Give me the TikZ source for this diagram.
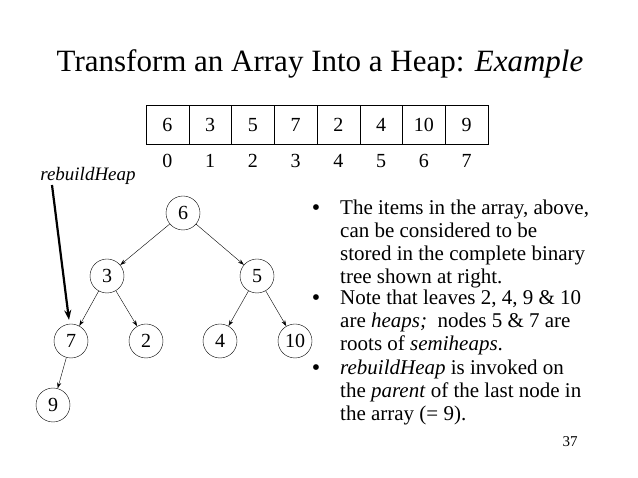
\documentclass[tikz,border=0pt]{standalone}
\usepackage{fontspec}
\setmainfont{Liberation Serif}
\usetikzlibrary{arrows.meta}
\begin{document}
\begin{tikzpicture}[x=1pt,y=-1pt,
  tn/.style={circle,draw,thin,minimum size=34pt,inner sep=0pt,font=\fontsize{20}{20}\selectfont},
  cell/.style={draw,thin,minimum width=42.75pt,minimum height=39pt,inner sep=0pt,font=\fontsize{20}{20}\selectfont},
  edge/.style={-{Stealth[length=6pt,width=4pt]},thin},
  bl/.style={anchor=base west,font=\fontsize{21}{21}\selectfont,inner sep=0pt}]
\useasboundingbox (0,0) rectangle (638,478);
\node[font=\fontsize{31}{31}\selectfont,anchor=base] (title) at (320,72) {Transform an Array Into a Heap: \textit{Example}};
\foreach \v [count=\i from 0] in {6,3,5,7,2,4,10,9}{
  \node[cell] (c\i) at ({167.4+42.75*\i},125) {\v};
  \node[font=\fontsize{20}{20}\selectfont] (i\i) at ({167.4+42.75*\i},161) {\i};
}
\node[tn] (n6) at (183,213) {6};
\node[tn] (n3) at (107,276) {3};
\node[tn] (n5) at (257,276) {5};
\node[tn] (n7) at (71,341) {7};
\node[tn] (n2) at (146,341) {2};
\node[tn] (n4) at (220,341) {4};
\node[tn] (n10) at (295,341) {10};
\node[tn] (n9) at (53,405) {9};
\draw[edge] (n6) -- (n3);
\draw[edge] (n6) -- (n5);
\draw[edge] (n3) -- (n7);
\draw[edge] (n3) -- (n2);
\draw[edge] (n5) -- (n4);
\draw[edge] (n5) -- (n10);
\draw[edge] (n7) -- (n9);
\node[font=\fontsize{19}{19}\selectfont\itshape] (rb) at (88,176) {rebuildHeap};
\coordinate (rbs) at (52,185);
\coordinate (rbe) at (69,320);
\draw[line width=2.2pt,-{Stealth[length=10pt,width=7pt]}] (rbs) -- (rbe);
\foreach \y in {215,305,375} \node[font=\fontsize{24}{24}\selectfont,anchor=base] at (316,{\y+1}) {•};
\node[bl] at (340,215) {The items in the array, above,};
\node[bl] at (340,238) {can be considered to be};
\node[bl] at (340,261) {stored in the complete binary};
\node[bl] at (340,284) {tree shown at right.};
\node[bl] at (340,305) {Note that leaves 2, 4, 9 \& 10};
\node[bl] at (340,328) {are \textit{heaps;}\ \ nodes 5 \& 7 are};
\node[bl] at (340,351) {roots of \textit{semiheaps}.};
\node[bl] at (340,375) {\textit{rebuildHeap} is invoked on};
\node[bl] at (340,398) {the \textit{parent} of the last node in};
\node[bl] at (340,421) {the array (= 9).};
\node[font=\fontsize{15}{15}\selectfont] (pg) at (570,442) {37};
\end{tikzpicture}
\end{document}
